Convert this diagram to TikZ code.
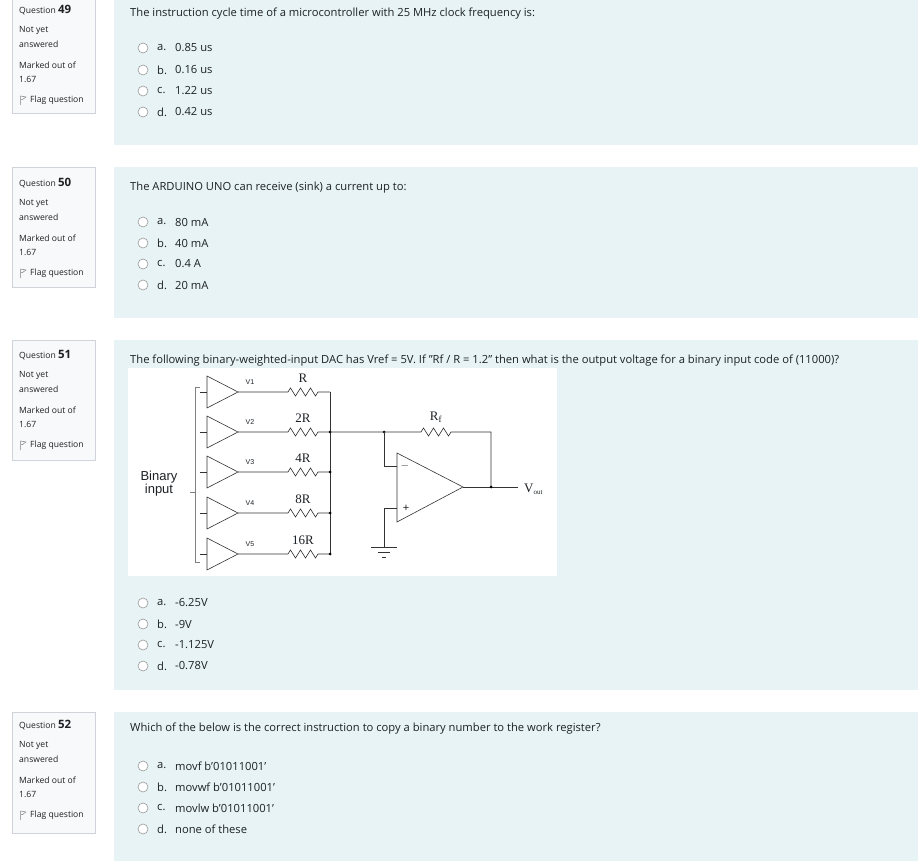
\documentclass[tikz,border=0pt]{standalone}
\usepackage{fontspec}
\setmainfont{Open Sans}
\newfontfamily\serifc{Liberation Serif}
\newfontfamily\sansc{Liberation Sans}
\definecolor{panel}{HTML}{E7F3F5}
\definecolor{infobg}{HTML}{F8F9FA}
\definecolor{infobd}{HTML}{CED4DA}
\definecolor{txt}{HTML}{1D2125}
\begin{document}
\begin{tikzpicture}[x=1pt,y=-1pt,
  every node/.style={text=txt,inner sep=0pt},
  qt/.style={anchor=west,font=\fontsize{11.2}{12}\selectfont},
  info/.style={anchor=west,font=\fontsize{8.6}{9}\selectfont},
  opt/.style={anchor=west,font=\fontsize{11.2}{12}\selectfont},
  radio/.style={circle,draw=gray!80,fill=white,minimum size=10pt,inner sep=0pt,line width=0.6pt},
  wire/.style={line width=0.6pt,draw=black!80},
  dot/.style={circle,fill=black,minimum size=3pt,inner sep=0pt},
  res/.style={wire},
  clab/.style={font=\serifc\fontsize{13}{13}\selectfont}]
\useasboundingbox (0,0) rectangle (918,861);
\fill[white] (0,0) rectangle (918,861);
\foreach \t/\b in {0/145,167/318,340/690,712/861}{\fill[panel] (114,\t) rectangle (918,\b);}
\foreach \t/\b in {-2/113,167/287,340/460,712/833}{\draw[infobd,fill=infobg] (12,\t) rectangle (95,\b);}
\foreach \q/\o in {49/0,50/173,51/345,52/715}{
 \node[info] (qn\q) at (19,10+\o) {Question {\fontsize{11.5}{11}\selectfont\bfseries \q}};
 \node[info] (ny\q) at (19,30+\o) {Not yet};
 \node[info] (an\q) at (19,44+\o) {answered};
 \node[info] (mk\q) at (19,65+\o) {Marked out of};
 \node[info] (sc\q) at (19,79+\o) {1.67};
 \draw[gray,line width=0.5pt] (20.5,105+\o) -- (20.5,96+\o) -- (26,97+\o) -- (22.5,99.5+\o) -- (20.5,99.5+\o);
 \node[info] (fl\q) at (30,100+\o) {Flag question};
}
\node[qt] (t49) at (130,14) {The instruction cycle time of a microcontroller with 25 MHz clock frequency is:};
\node[qt] (t50) at (130,188) {The ARDUINO UNO can receive (sink) a current up to:};
\node[qt] (t51) at (130,361) {The following binary-weighted-input DAC has Vref = 5V. If "Rf / R = 1.2" then what is the output voltage for a binary input code of (11000)?};
\node[qt] (t52) at (130,729) {Which of the below is the correct instruction to copy a binary number to the work register?};
\newcommand\optrow[4]{\node[radio] (r#1#2) at (143,#3) {};
 \node[opt] (l#1#2) at (157,#3) {#2.}; \node[opt] (o#1#2) at (175,#3) {#4};}
\optrow{49}{a}{48}{0.85 us}\optrow{49}{b}{70}{0.16 us}\optrow{49}{c}{91}{1.22 us}\optrow{49}{d}{112}{0.42 us}
\optrow{50}{a}{222}{80 mA}\optrow{50}{b}{243}{40 mA}\optrow{50}{c}{264}{0.4 A}\optrow{50}{d}{285}{20 mA}
\optrow{51}{a}{603}{-6.25V}\optrow{51}{b}{624}{-9V}\optrow{51}{c}{645}{-1.125V}\optrow{51}{d}{666}{-0.78V}
\optrow{52}{a}{766}{movf b'01011001'}\optrow{52}{b}{787}{movwf b'01011001'}\optrow{52}{c}{808}{movlw b'01011001'}\optrow{52}{d}{829}{none of these}
% circuit
\fill[white] (128,368) rectangle (557,576);
\draw[gray,line width=0.7pt] (200,387) -- (195,387) -- (195,562) -- (200,562);
\draw[gray,line width=0.7pt] (195,492) -- (190,492);
\node[anchor=center,align=center,font=\sansc\fontsize{13}{9}\selectfont] (bin) at (159,484) {Binary\\input};
\foreach \y/\v/\r [count=\i] in {392/V1/R,432/V2/2R,472/V3/4R,513/V4/8R,554/V5/16R}{
 \draw[wire,fill=white] (207,\y-16) -- (238,\y) -- (207,\y+16) -- cycle;
 \draw[wire] (200,\y) -- (207,\y);
 \node[font=\sansc\fontsize{7}{7}\selectfont] (v\i) at (250,\y-10) {\v};
 \draw[res] (238,\y) -- (288,\y) -- (290.5,\y-4) -- (295.5,\y+4) -- (300.5,\y-4) -- (305.5,\y+4) -- (310.5,\y-4) -- (315.5,\y+4) -- (318,\y) -- (330,\y);
 \node[clab] (rl\i) at (303,\y-14) {\r};
}
\draw[wire] (330,392) -- (330,554);
\foreach \y in {432,472,513,554} \node[dot] at (330,\y) {};
\node[dot] (jn) at (384,432) {};
\draw[res] (330,432) -- (421,432) -- (423.5,428) -- (428.5,436) -- (433.5,428) -- (438.5,436) -- (443.5,428) -- (448.5,436) -- (451,432) -- (491,432) -- (491,487);
\node[clab] (rf) at (436,417) {R\textsubscript{f}};
\draw[wire,fill=white] (397,453) -- (463,487) -- (397,522) -- cycle;
\node[font=\sansc\fontsize{11}{11}\selectfont] (mi) at (405,466) {$-$};
\node[font=\sansc\fontsize{11}{11}\selectfont] (pl) at (406,508) {+};
\draw[wire] (384,432) -- (384,466) -- (397,466);
\draw[wire] (397,508) -- (384,508) -- (384,547);
\draw[wire] (371,547) -- (397,547);
\draw[wire] (378,552) -- (390,552);
\draw[wire] (382,557) -- (386,557);
\draw[wire] (463,487) -- (518,487);
\node[dot] (od) at (491,487) {};
\node[anchor=west,clab] (vo) at (524,489) {V\textsubscript{\fontsize{7}{7}\selectfont out}};
\end{tikzpicture}
\end{document}
